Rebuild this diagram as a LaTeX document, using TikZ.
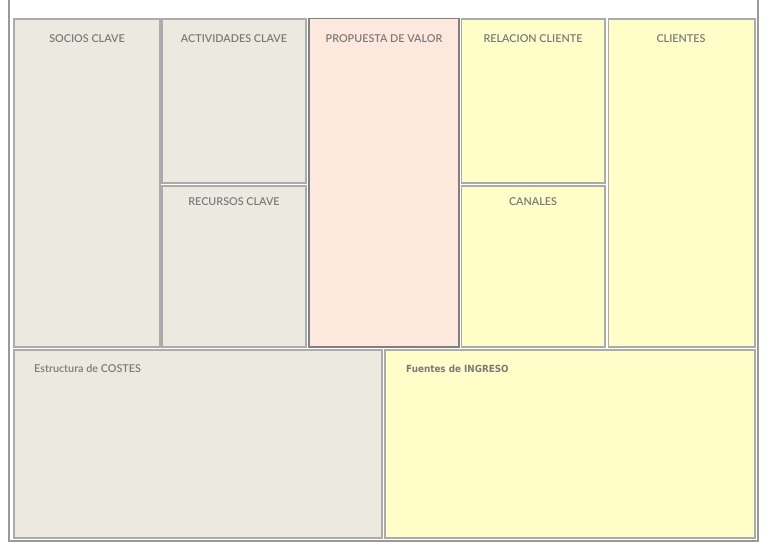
\documentclass[tikz,border=0pt]{standalone}
\usepackage{fontspec}
\setmainfont{Lato}
\newfontfamily\semib{Lato Semibold}
\newfontfamily\ingfont{DejaVu Sans Condensed}
\definecolor{greyfill}{HTML}{ECEAE0}
\definecolor{pinkfill}{HTML}{FCE8DC}
\definecolor{yellowfill}{HTML}{FFFDC8}
\definecolor{boxline}{HTML}{ABABAB}
\definecolor{txtgrey}{HTML}{7A7A7A}
\begin{document}
\begin{tikzpicture}[x=1pt,y=-1pt,
  cell/.style={draw=boxline, line width=1.2pt},
  title/.style={text=txtgrey, font=\semib\fontsize{10.8}{12}\selectfont, inner sep=0pt, anchor=center},
  ltitle/.style={text=txtgrey, font=\semib\fontsize{10.8}{12}\selectfont, inner sep=0pt, anchor=west}]
\useasboundingbox (0,0) rectangle (768,543);
\fill[white] (0,0) rectangle (768,543);
% outer frame
\draw[draw=gray!80, line width=1.2pt] (9,0) -- (9,541) -- (758,541) -- (758,0);
% cells
\filldraw[cell, fill=greyfill] (14,19) rectangle (160,347);
\filldraw[cell, fill=greyfill] (162,19) rectangle (306,183);
\filldraw[cell, fill=greyfill] (162,186) rectangle (306,347);
\filldraw[cell, fill=pinkfill, draw=gray, line width=1.5pt] (309,18.5) rectangle (459,347);
\filldraw[cell, fill=yellowfill] (461.5,19) rectangle (605,183);
\filldraw[cell, fill=yellowfill] (461.5,186) rectangle (605,347);
\filldraw[cell, fill=yellowfill] (608.5,19) rectangle (755,347);
\filldraw[cell, fill=greyfill] (14,350) rectangle (382,538);
\filldraw[cell, fill=yellowfill] (385,350) rectangle (755,538);
% titles
\node[title] (socios) at (87,39) {SOCIOS CLAVE};
\node[title] (activ) at (234,39) {ACTIVIDADES CLAVE};
\node[title] (prop) at (384,39) {PROPUESTA DE VALOR};
\node[title] (rel) at (533,39) {RELACION CLIENTE};
\node[title] (cli) at (681,39) {CLIENTES};
\node[title] (rec) at (234,202) {RECURSOS CLAVE};
\node[title] (can) at (533,202) {CANALES};
\node[ltitle] (costes) at (34,369) {Estructura de COSTES};
\node[text=txtgrey, font=\ingfont\bfseries\fontsize{9.8}{11}\selectfont, inner sep=0pt, anchor=west] (ingreso) at (406,369) {Fuentes de INGRESO};
\end{tikzpicture}
\end{document}
